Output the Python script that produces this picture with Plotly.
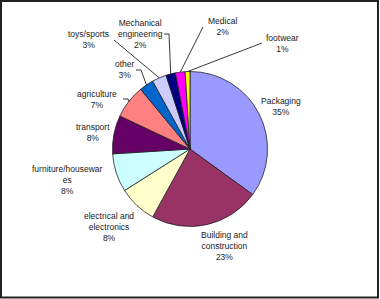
import math
import plotly.graph_objects as go

# ---- data ----
categories = ["Packaging", "Building and construction", "electrical and electronics",
              "furniture/housewares", "transport", "agriculture", "other",
              "toys/sports", "Mechanical engineering", "Medical", "footwear"]
shares = [35, 23, 8, 8, 8, 7, 3, 3, 2, 2, 1]
label_texts = ["Packaging<br>35%", "Building and<br>construction<br>23%",
               "electrical and<br>electronics<br>8%", "furniture/housewar<br>es<br>8%",
               "transport<br>8%", "agriculture<br>7%", "other<br>3%", "toys/sports<br>3%",
               "Mechanical<br>engineering<br>2%", "Medical<br>2%", "footwear<br>1%"]

# ---- styles / layout ----
colors = ["#9999FF", "#993366", "#FFFFCC", "#CCFFFF", "#660066", "#FF8080",
          "#0066CC", "#CCCCFF", "#000080", "#FF00FF", "#FFFF00"]
W, H = 380, 299
CX, CY, R = 190, 149, 77.5
# label centres in pixels
label_pos = [(281, 106), (225, 246), (109, 227), (67, 180), (93, 133), (97, 99),
             (125, 69), (88, 39), (140, 34), (222, 27), (282, 43)]
# leader line start (label side) in pixels; None = no leader; extra elbow point optional
leader_start = [None, None, None, None, None, [(123, 99), (128, 99)],
                [(136, 70), (141, 70)], [(114, 40)], [(164, 34), (169, 34)],
                [(203, 27)], [(262, 43)]]


def px(x):
    return x / W


def py(y):
    return 1 - y / H


fig = go.Figure(go.Pie(
    labels=categories, values=shares, sort=False, direction="clockwise", rotation=0,
    marker=dict(colors=colors, line=dict(color="#222222", width=0.8)),
    textinfo="none", hoverinfo="skip", showlegend=False,
    domain=dict(x=[px(CX - R), px(CX + R)], y=[py(CY + R), py(CY - R)]),
))

total = sum(shares)
cum = 0
shapes = []
annotations = []
for i, v in enumerate(shares):
    mid = (cum + v / 2) / total * 2 * math.pi
    cum += v
    ex, ey = CX + R * math.sin(mid), CY - R * math.cos(mid)
    lx, ly = label_pos[i]
    annotations.append(dict(x=px(lx), y=py(ly), xref="paper", yref="paper",
                            text=label_texts[i], showarrow=False,
                            xanchor="center", yanchor="middle",
                            font=dict(family="Liberation Sans, Arial", size=8.5, color="#1a1a1a")))
    if leader_start[i]:
        pts = leader_start[i] + [(ex, ey)]
        path = "M " + " L ".join(f"{px(a)},{py(b)}" for a, b in pts)
        shapes.append(dict(type="path", xref="paper", yref="paper", path=path,
                           line=dict(color="#222222", width=0.9)))

shapes.append(dict(type="rect", xref="paper", yref="paper", x0=px(1), y0=py(297.5),
                   x1=px(378), y1=py(1), line=dict(color="#222222", width=2)))

fig.update_layout(width=W, height=H, margin=dict(l=0, r=0, t=0, b=0),
                  paper_bgcolor="white", plot_bgcolor="white",
                  shapes=shapes, annotations=annotations)
fig.write_html("out.html")
